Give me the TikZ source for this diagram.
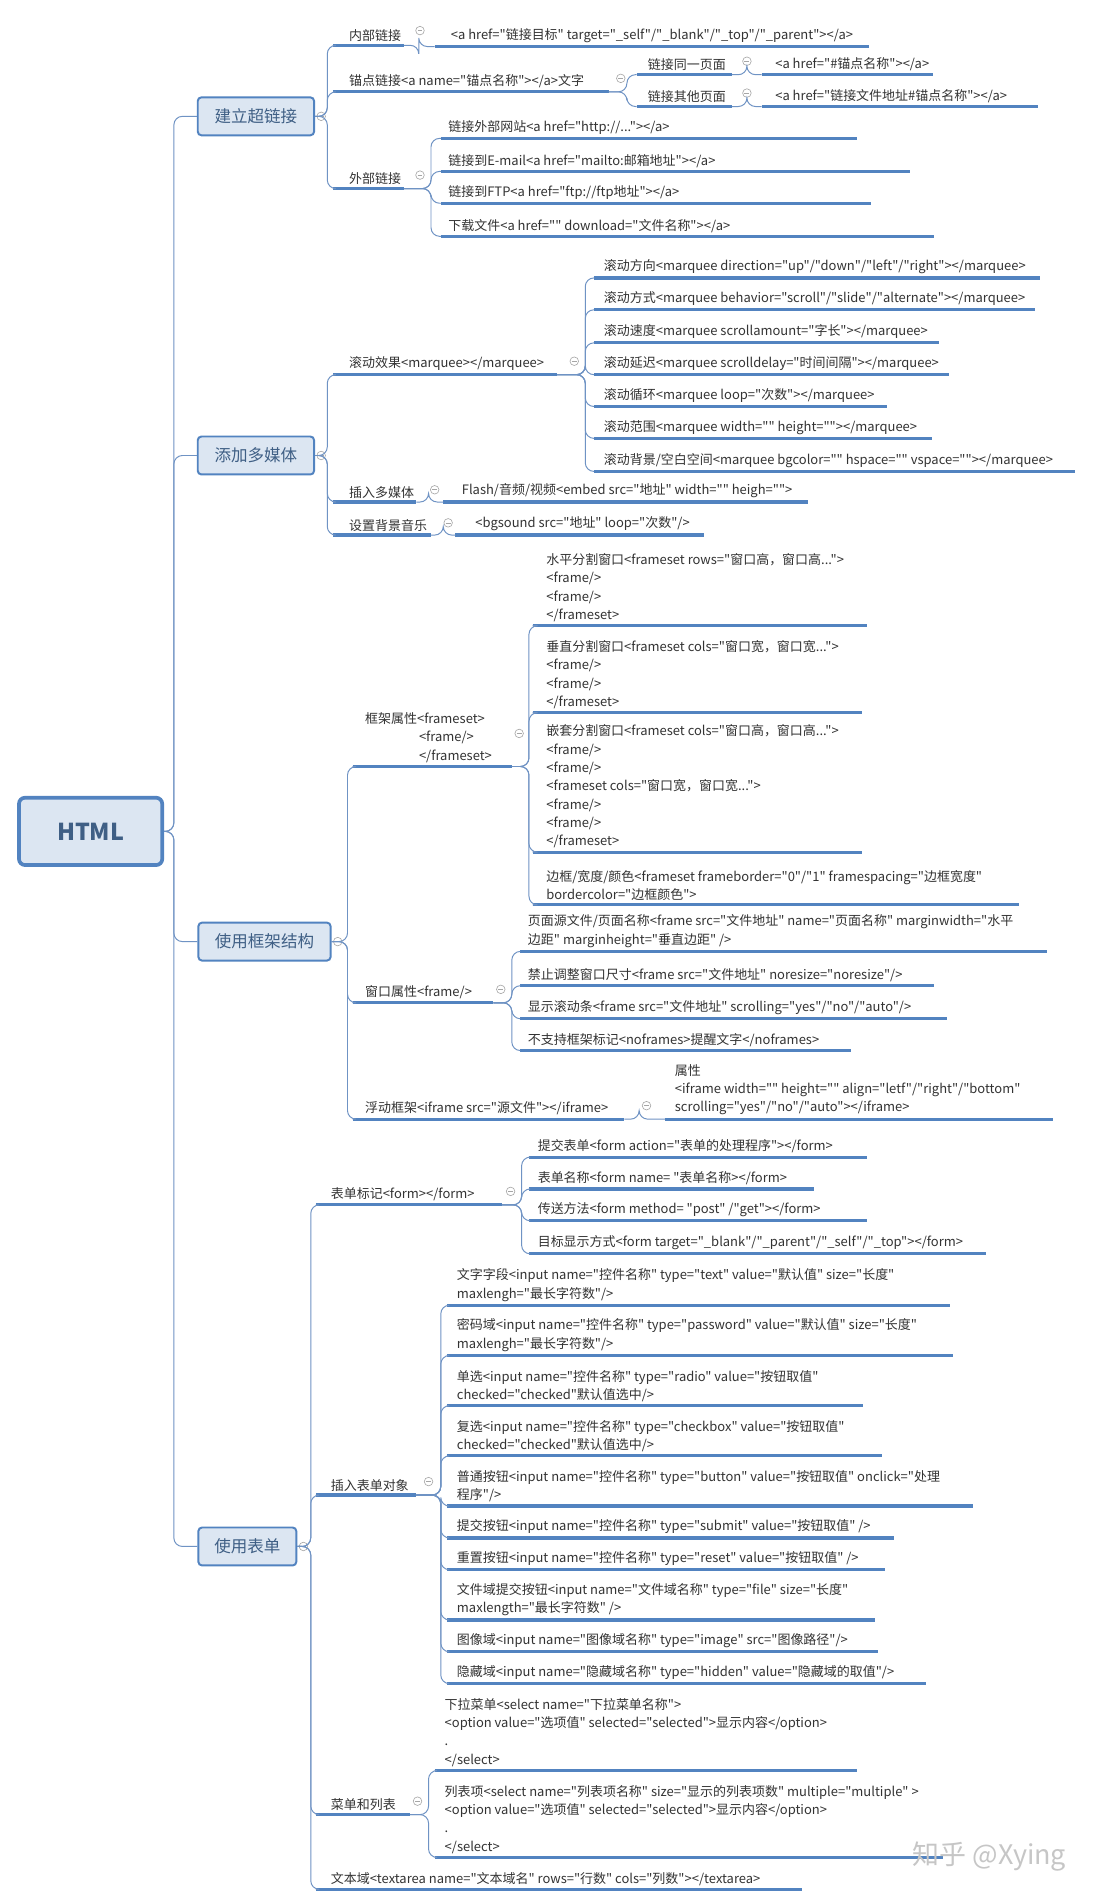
\documentclass[tikz,border=0pt]{standalone}
\usepackage{fontspec}
\setmainfont{Noto Sans CJK SC}[Ligatures=TeXOff]
\definecolor{ub}{HTML}{5283C0}
\definecolor{cb}{HTML}{6F93C4}
\definecolor{bf}{HTML}{DCE6F2}
\definecolor{tx}{HTML}{333333}
\definecolor{bt}{HTML}{3F5F85}
\tikzset{
  lbl/.style={anchor=south west,inner sep=0pt,align=left,text=tx,font=\fontsize{10.6}{15}\selectfont},
  uline/.style={draw=ub,line width=2.6pt},
  conn/.style={draw=cb,line width=0.8pt,rounded corners=7pt},
  mainbox/.style={draw=ub,line width=1.6pt,fill=bf,rounded corners=3pt,text=bt,font=\fontsize{13.5}{15}\selectfont,inner xsep=8pt,minimum height=31pt},
  rootbox/.style={draw=ub,line width=3pt,fill=bf,rounded corners=5pt,text=bt,font=\fontsize{19}{22}\selectfont\bfseries,minimum width=117pt,minimum height=55pt},
  clps/.style={draw=gray!70,line width=0.5pt}
}
\newcommand\leaf[6]{%
  \node[lbl] (#1) at (#2,#3-3) {#6};
  \draw[uline] (#4,#3) coordinate (#1s) -- (#5,#3) coordinate (#1e);}
\newcommand\cl[2]{\draw[clps] (#1,#2) circle (3.5); \draw[clps] (#1-2,#2)--(#1+2,#2);}
\newcommand\con[3]{\draw[conn] (#1) -- ++(#3,0) |- (#2);}
\begin{document}
\begin{tikzpicture}[x=1pt,y=-1pt]
\useasboundingbox[fill=white] (0,0) rectangle (900,1555);
% root
\node[rootbox] (html) at (74,679) {HTML};
\node[mainbox,minimum width=95pt] (m1) at (209,95) {建立超链接};
\node[mainbox,minimum width=95pt] (m2) at (209,372) {添加多媒体};
\node[mainbox,minimum width=108pt] (m3) at (216,769) {使用框架结构};
\node[mainbox,minimum width=80pt] (m4) at (202,1263) {使用表单};
\foreach \m in {m1,m2,m3,m4}{\draw[conn] (html.east) -- ++(8,0) |- (\m.west);}
\foreach \m in {m1,m2,m3,m4}{\draw[clps] ([xshift=5pt]\m.east) circle (3.5); \draw[clps] ([xshift=3pt]\m.east)--([xshift=7pt]\m.east);}
% group 1
\leaf{a1}{285}{37}{272}{330}{内部链接}\cl{343}{25}
\leaf{a11}{368}{38}{355}{710}{<a href="链接目标" target="\_self"/"\_blank"/"\_top"/"\_parent"></a>}
\leaf{a2}{285}{75}{272}{497}{锚点链接<a name="锚点名称"></a>文字}\cl{507}{64}
\leaf{a21}{529}{61}{520}{598}{链接同一页面}\cl{610}{50}
\leaf{a211}{633}{61}{622}{762}{<a href="\#锚点名称"></a>}
\leaf{a22}{529}{87}{520}{598}{链接其他页面}\cl{610}{76}
\leaf{a221}{633}{87}{622}{848}{<a href="链接文件地址\#锚点名称"></a>}
\leaf{a3}{285}{154}{272}{330}{外部链接}\cl{343}{143}
\leaf{a31}{366}{113}{360}{700}{链接外部网站<a href="http://..."></a>}
\leaf{a32}{366}{140}{360}{743}{链接到E-mail<a href="mailto:邮箱地址"></a>}
\leaf{a33}{366}{166}{360}{711}{链接到FTP<a href="ftp://ftp地址"></a>}
\leaf{a34}{366}{193}{360}{763}{下载文件<a href="" download="文件名称"></a>}
\foreach \c in {a1,a2,a3}{\con{m1.east}{\c s}{10}}
\con{a1e}{a11s}{12}
\foreach \c in {a21,a22}{\con{a2e}{\c s}{15}}
\con{a21e}{a211s}{12}\con{a22e}{a221s}{12}
\foreach \c in {a31,a32,a33,a34}{\con{a3e}{\c s}{22}}
% group 2
\leaf{b1}{285}{306}{272}{455}{滚动效果<marquee></marquee>}\cl{469}{295}
\leaf{b11}{493}{227}{485}{849}{滚动方向<marquee direction="up"/"down"/"left"/"right"></marquee>}
\leaf{b12}{493}{253}{485}{845}{滚动方式<marquee behavior="scroll"/"slide"/"alternate"></marquee>}
\leaf{b13}{493}{280}{485}{767}{滚动速度<marquee scrollamount="字长"></marquee>}
\leaf{b14}{493}{306}{485}{775}{滚动延迟<marquee scrolldelay="时间间隔"></marquee>}
\leaf{b15}{493}{332}{485}{724}{滚动循环<marquee loop="次数"></marquee>}
\leaf{b16}{493}{358}{485}{761}{滚动范围<marquee width="" height=""></marquee>}
\leaf{b17}{493}{385}{485}{878}{滚动背景/空白空间<marquee bgcolor="" hspace="" vspace=""></marquee>}
\leaf{b2}{285}{410}{272}{340}{插入多媒体}\cl{355}{400}
\leaf{b21}{377}{410}{362}{660}{Flash/音频/视频<embed src="地址" width="" heigh="">}
\leaf{b3}{285}{437}{272}{352}{设置背景音乐}\cl{366}{427}
\leaf{b31}{388}{437}{372}{575}{<bgsound src="地址" loop="次数"/>}
\foreach \c in {b1,b2,b3}{\con{m2.east}{\c s}{10}}
\foreach \c in {b11,b12,b13,b14,b15,b16,b17}{\con{b1e}{\c s}{23}}
\con{b2e}{b21s}{10}\con{b3e}{b31s}{10}
% group 3
\begin{scope}[shift={(0,-6)}]
\leaf{c1}{298}{632}{288}{418}{框架属性<frameset>\\\hspace*{44pt}<frame/>\\\hspace*{44pt}</frameset>}\cl{424}{605}
\leaf{c11}{446}{517}{435}{708}{水平分割窗口<frameset rows="窗口高，窗口高...">\\<frame/>\\<frame/>\\</frameset>}
\leaf{c12}{446}{588}{435}{704}{垂直分割窗口<frameset cols="窗口宽，窗口宽...">\\<frame/>\\<frame/>\\</frameset>}
\leaf{c13}{446}{702}{435}{704}{嵌套分割窗口<frameset cols="窗口高，窗口高...">\\<frame/>\\<frame/>\\<frameset cols="窗口宽，窗口宽...">\\<frame/>\\<frame/>\\</frameset>}
\leaf{c14}{446}{745}{435}{832}{边框/宽度/颜色<frameset frameborder="0"/"1" framespacing="边框宽度"\\bordercolor="边框颜色">}
\leaf{c2}{298}{825}{288}{403}{窗口属性<frame/>}\cl{409}{814}
\leaf{c21}{431}{783}{425}{855}{页面源文件/页面名称<frame src="文件地址" name="页面名称" marginwidth="水平\\边距" marginheight="垂直边距" />}
\leaf{c22}{431}{811}{425}{763}{禁止调整窗口尺寸<frame src="文件地址" noresize="noresize"/>}
\leaf{c23}{431}{838}{425}{773}{显示滚动条<frame src="文件地址" scrolling="yes"/"no"/"auto"/>}
\leaf{c24}{431}{864}{425}{695}{不支持框架标记<noframes>提醒文字</noframes>}
\leaf{c3}{298}{920}{288}{510}{浮动框架<iframe src="源文件"></iframe>}\cl{528}{909}
\leaf{c31}{551}{920}{543}{860}{属性\\<iframe width="" height="" align="letf"/"right"/"bottom"\\scrolling="yes"/"no"/"auto"></iframe>}
\end{scope}
\foreach \c in {c1,c2,c3}{\con{m3.east}{\c s}{13}}
\foreach \c in {c11,c12,c13,c14}{\con{c1e}{\c s}{14}}
\foreach \c in {c21,c22,c23,c24}{\con{c2e}{\c s}{15}}
\con{c3e}{c31s}{12}
% group 4
\begin{scope}[shift={(0,-9)}]
\leaf{d1}{270}{993}{258}{410}{表单标记<form></form>}\cl{417}{982}
\leaf{d11}{439}{954}{432}{708}{提交表单<form action="表单的处理程序"></form>}
\leaf{d12}{439}{980}{432}{665}{表单名称<form name=\ "表单名称></form>}
\leaf{d13}{439}{1006}{432}{708}{传送方法<form method=\ "post"\ /"get"></form>}
\leaf{d14}{439}{1033}{432}{805}{目标显示方式<form target="\_blank"/"\_parent"/"\_self"/"\_top"></form>}
\leaf{d2}{270}{1230}{258}{340}{插入表单对象}\cl{350}{1219}
\leaf{d21}{373}{1075}{365}{776}{文字字段<input name="控件名称" type="text" value="默认值" size="长度"\\maxlengh="最长字符数"/>}
\leaf{d22}{373}{1116}{365}{778}{密码域<input name="控件名称" type="password" value="默认值" size="长度"\\maxlengh="最长字符数"/>}
\leaf{d23}{373}{1157}{365}{705}{单选<input name="控件名称" type="radio" value="按钮取值"\\checked="checked"默认值选中/>}
\leaf{d24}{373}{1198}{365}{720}{复选<input name="控件名称" type="checkbox" value="按钮取值"\\checked="checked"默认值选中/>}
\leaf{d25}{373}{1239}{365}{795}{普通按钮<input name="控件名称" type="button" value="按钮取值" onclick="处理\\程序"/>}
\leaf{d26}{373}{1265}{365}{730}{提交按钮<input name="控件名称" type="submit" value="按钮取值" />}
\leaf{d27}{373}{1291}{365}{723}{重置按钮<input name="控件名称" type="reset" value="按钮取值" />}
\leaf{d28}{373}{1332}{365}{715}{文件域提交按钮<input name="文件域名称" type="file" size="长度"\\maxlength="最长字符数" />}
\leaf{d29}{373}{1358}{365}{717}{图像域<input name="图像域名称" type="image" src="图像路径"/>}
\leaf{d2a}{373}{1384}{365}{756}{隐藏域<input name="隐藏域名称" type="hidden" value="隐藏域的取值"/>}
\leaf{d3}{270}{1491}{258}{335}{菜单和列表}\cl{341}{1480}
\leaf{d31}{363}{1455}{355}{700}{下拉菜单<select name="下拉菜单名称">\\<option value="选项值" selected="selected">显示内容</option>\\.\\</select>}
\leaf{d32}{363}{1526}{355}{770}{列表项<select name="列表项名称" size="显示的列表项数" multiple="multiple" >\\<option value="选项值" selected="selected">显示内容</option>\\.\\</select>}
\leaf{d4}{270}{1552}{258}{655}{文本域<textarea name="文本域名" rows="行数" cols="列数"></textarea>}
\node[text=gray!45,font=\fontsize{22}{24}\selectfont,anchor=center] (wm) at (808,1525) {知乎 @Xying};
\end{scope}
\foreach \c in {d1,d2,d3,d4}{\con{m4.east}{\c s}{11}}
\foreach \c in {d11,d12,d13,d14}{\con{d1e}{\c s}{16}}
\foreach \c in {d21,d22,d23,d24,d25,d26,d27,d28,d29,d2a}{\con{d2e}{\c s}{20}}
\foreach \c in {d31,d32}{\con{d3e}{\c s}{15}}
\end{tikzpicture}
\end{document}
